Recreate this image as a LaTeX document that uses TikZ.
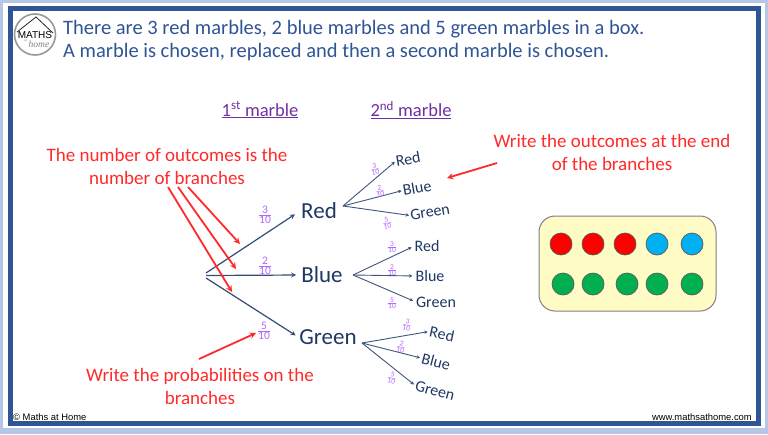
\documentclass[tikz,border=0pt]{standalone}
\usepackage{fontspec}
\usetikzlibrary{arrows.meta}
\setmainfont{Carlito}
\newfontfamily\footfont{Liberation Sans}
\newfontfamily\logofont{Liberation Serif}
\newcommand{\probfrac}[2]{$\frac{\mbox{#1}}{\mbox{#2}}$}
\definecolor{framelight}{HTML}{B4C7E7}
\definecolor{framedark}{HTML}{2F5597}
\definecolor{treeblue}{HTML}{1F3864}
\definecolor{notered}{HTML}{FF2A2A}
\definecolor{headpurple}{HTML}{7030A0}
\definecolor{fracpurple}{HTML}{B266FF}
\definecolor{boxyellow}{HTML}{FFFBC4}
\definecolor{marblered}{HTML}{FF0000}
\definecolor{marbleblue}{HTML}{00B0F0}
\definecolor{marblegreen}{HTML}{00B050}
\tikzset{
	note/.style={text=notered,align=center,font=\fontsize{19}{23}\selectfont},
	notearrow/.style={->,notered,line width=1.8pt},
	branch/.style={->,treeblue!90!white,line width=1.2pt},
	twig/.style={->,treeblue!85!white,line width=0.9pt,>={Stealth[length=3.5pt,width=3.5pt]}},
	bigword/.style={text=treeblue,font=\fontsize{23}{23}\selectfont,inner sep=1pt},
	smallword/.style={text=treeblue,font=\fontsize{16}{16}\selectfont,inner sep=0pt},
	bigfrac/.style={text=fracpurple,inner sep=0pt,font=\fontsize{11.5}{12}\selectfont},
	smallfrac/.style={text=fracpurple,inner sep=0pt,font=\fontsize{7.5}{8}\selectfont},
	heading/.style={text=headpurple,font=\fontsize{18.5}{19}\selectfont},
	marble/.style={circle,draw=black!65,line width=0.7pt,minimum size=22pt,inner sep=0pt},
}
\begin{document}
\begin{tikzpicture}[x=1pt,y=-1pt,>=stealth]
	\useasboundingbox (0,0) rectangle (768,434);

	% The frame
	\fill[framelight] (0,0) rectangle (768,434);
	\fill[white] (3,3) rectangle (765,428);
	\fill[framedark] (8,6) rectangle (761,426);
	\fill[white] (12.5,11) rectangle (756,421);

	% The logo
	\node[circle,draw=black!40,line width=1.6pt,fill=white,minimum size=41pt,inner sep=0pt] (logo) at (35,34.5) {};
	\coordinate (roofleft) at (17,32);
	\coordinate (rooftop) at (36,17);
	\coordinate (roofright) at (53,33);
	\draw[black!85,line width=0.8pt] (roofleft) -- (rooftop) -- (roofright);
	\node[font=\fontsize{10}{10}\selectfont,inner sep=0pt] (logomaths) at (35,35) {\footfont MATHS};
	\node[font=\fontsize{9.5}{10}\selectfont,text=black!50,inner sep=0pt] (logohome) at (39,44) {\logofont\itshape home};
	\node[font=\fontsize{3.5}{4}\selectfont,text=black!50,inner sep=0pt] (logoat) at (25.5,41) {\logofont at};

	% The question
	\node[anchor=north west,text=framedark,align=left,inner sep=0pt,font=\fontsize{20.5}{23.5}\selectfont] (question) at (63,20)
		{There are 3 red marbles, 2 blue marbles and 5 green marbles in a box.\\A marble is chosen, replaced and then a second marble is chosen.};

	% The headings
	\node[heading] (firsthead) at (260,110) {\underline{1\textsuperscript{st} marble}};
	\node[heading] (secondhead) at (411,110) {\underline{2\textsuperscript{nd} marble}};

	% The first branches
	\coordinate (rootred) at (206,273);
	\coordinate (rootblue) at (206,275.5);
	\coordinate (rootgreen) at (206,278);
	\node[bigword] (red) at (319,211) {Red};
	\node[bigword] (blue) at (322,275) {Blue};
	\node[bigword] (green) at (328,337) {Green};
	\draw[branch,shorten >=6pt] (rootred) -- (red.west);
	\draw[branch,shorten >=4pt] (rootblue) -- (blue.west);
	\draw[branch,shorten >=3pt] (rootgreen) -- (green.west);
	\node[bigfrac] (fracred) at (265,215) {\probfrac{3}{10}};
	\node[bigfrac] (fracblue) at (265,266) {\probfrac{2}{10}};
	\node[bigfrac] (fracgreen) at (264,331) {\probfrac{5}{10}};

	% The second branches after red
	\coordinate (forkred) at (343,206);
	\node[smallword,rotate=10] (redred) at (408,159) {Red};
	\node[smallword,rotate=10] (redblue) at (417,188) {Blue};
	\node[smallword,rotate=10] (redgreen) at (430,212) {Green};
	\foreach \word in {redred,redblue,redgreen}
	{
		\draw[twig,shorten >=1pt] (forkred) -- (\word.west);
	}
	\node[smallfrac,rotate=10] (fracrr) at (375,169) {\probfrac{3}{10}};
	\node[smallfrac,rotate=10] (fracrb) at (380,191) {\probfrac{2}{10}};
	\node[smallfrac,rotate=10] (fracrg) at (387,223) {\probfrac{5}{10}};

	% The second branches after blue
	\coordinate (forkblue) at (353,275);
	\node[smallword] (bluered) at (427,246) {Red};
	\node[smallword] (blueblue) at (430,276) {Blue};
	\node[smallword] (bluegreen) at (436,302) {Green};
	\foreach \word in {bluered,blueblue,bluegreen}
	{
		\draw[twig,shorten >=3pt] (forkblue) -- (\word.west);
	}
	\node[smallfrac] (fracbr) at (392,247) {\probfrac{3}{10}};
	\node[smallfrac] (fracbb) at (392,270) {\probfrac{2}{10}};
	\node[smallfrac] (fracbg) at (392,303) {\probfrac{5}{10}};

	% The second branches after green
	\coordinate (forkgreen) at (362,343);
	\node[smallword,rotate=-12] (greenred) at (442,334) {Red};
	\node[smallword,rotate=-15] (greenblue) at (436,362) {Blue};
	\node[smallword,rotate=-15] (greengreen) at (435,391) {Green};
	\foreach \word in {greenred,greenblue,greengreen}
	{
		\draw[twig,shorten >=2pt] (forkgreen) -- (\word.west);
	}
	\node[smallfrac,rotate=-12] (fracgr) at (407,325) {\probfrac{3}{10}};
	\node[smallfrac,rotate=-12] (fracgb) at (401,347) {\probfrac{2}{10}};
	\node[smallfrac,rotate=-12] (fracgg) at (392,378) {\probfrac{5}{10}};

	% The notes
	\node[note] (noteleft) at (167,166) {The number of outcomes is the\\number of branches};
	\node[note] (noteright) at (612,152) {Write the outcomes at the end\\of the branches};
	\node[note] (notebottom) at (200,386) {Write the probabilities on the\\branches};
	\coordinate (tipone) at (240,244);
	\coordinate (tiptwo) at (236,269);
	\coordinate (tipthree) at (232,292);
	\coordinate (tipright) at (447,178);
	\coordinate (tipbottom) at (256,333);
	\draw[notearrow] (188,187) -- (tipone);
	\draw[notearrow] (178,187) -- (tiptwo);
	\draw[notearrow] (168,187) -- (tipthree);
	\draw[notearrow] (497,163) -- (tipright);
	\draw[notearrow] (199,359) -- (tipbottom);

	% The box of marbles
	\node[draw=black!50,line width=1pt,fill=boxyellow,rounded corners=16pt,minimum width=177pt,minimum height=95pt,inner sep=0pt] (box) at (627.5,263.5) {};
	\foreach \xx/\col [count=\i] in {561/marblered,593/marblered,625/marblered,657/marbleblue,692/marbleblue}
	{
		\node[marble,fill=\col] (top\i) at (\xx,244) {};
	}
	\foreach \xx [count=\i] in {563,593,627,657,692}
	{
		\node[marble,fill=marblegreen] (low\i) at (\xx,284) {};
	}

	% The footer
	\node[anchor=west,inner sep=0pt,font=\fontsize{9.4}{10}\selectfont] (copyright) at (13,417) {\footfont © Maths at Home};
	\node[anchor=east,inner sep=0pt,font=\fontsize{9.4}{10}\selectfont] (website) at (752,417) {\footfont www.mathsathome.com};

\end{tikzpicture}
\end{document}
